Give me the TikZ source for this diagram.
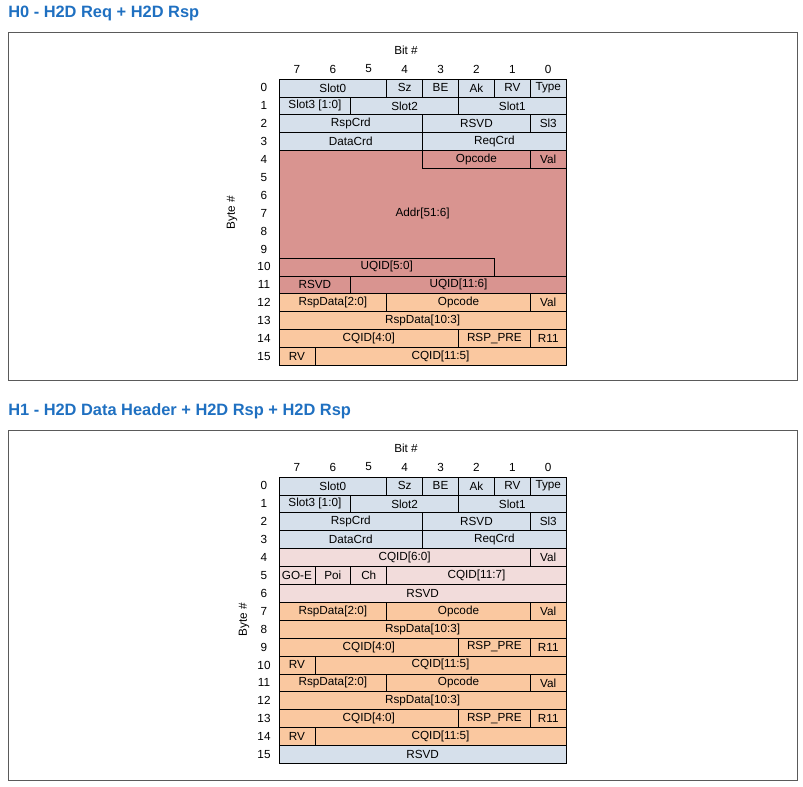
\documentclass[tikz,border=0pt]{standalone}
\usepackage{fontspec}
\setmainfont{Liberation Sans}
\definecolor{cbl}{RGB}{214,224,235}
\definecolor{cre}{RGB}{217,148,144}
\definecolor{cor}{RGB}{250,200,160}
\definecolor{cpk}{RGB}{242,220,219}
\definecolor{ttl}{RGB}{31,112,193}
\definecolor{frm}{RGB}{90,90,90}
\newcommand\fld[6]{%
\filldraw[fill=#5,draw=black,line width=0.6pt] ({279+(#3)*35.9},{#1+(#2)*17.9}) rectangle ++({(#4)*35.9},17.9);
\node[lab] at ({279+((#3)+(#4)/2)*35.9},{#1+((#2)+0.5)*17.9}) {#6};}
\newcommand\hdr[1]{%
\node[lab] at (406,{#1-29}) {Bit \#};
\foreach \b [count=\i from 0] in {7,6,5,4,3,2,1,0} \node[lab] at ({279+(\i+0.5)*35.9},{#1-10}) {\b};
\foreach \r in {0,...,15} \node[lab] at (264,{#1+(\r+0.5)*17.9}) {\r};
\fld{#1}{0}{0}{3}{cbl}{Slot0}\fld{#1}{0}{3}{1}{cbl}{Sz}\fld{#1}{0}{4}{1}{cbl}{BE}
\fld{#1}{0}{5}{1}{cbl}{Ak}\fld{#1}{0}{6}{1}{cbl}{RV}\fld{#1}{0}{7}{1}{cbl}{Type}
\fld{#1}{1}{0}{2}{cbl}{Slot3 [1:0]}\fld{#1}{1}{2}{3}{cbl}{Slot2}\fld{#1}{1}{5}{3}{cbl}{Slot1}
\fld{#1}{2}{0}{4}{cbl}{RspCrd}\fld{#1}{2}{4}{3}{cbl}{RSVD}\fld{#1}{2}{7}{1}{cbl}{Sl3}
\fld{#1}{3}{0}{4}{cbl}{DataCrd}\fld{#1}{3}{4}{4}{cbl}{ReqCrd}}
\newcommand\rsp[2]{%
\fld{#1}{#2}{0}{3}{cor}{RspData[2:0]}\fld{#1}{#2}{3}{4}{cor}{Opcode}\fld{#1}{#2}{7}{1}{cor}{Val}
\fld{#1}{#2+1}{0}{8}{cor}{RspData[10:3]}
\fld{#1}{#2+2}{0}{5}{cor}{CQID[4:0]}\fld{#1}{#2+2}{5}{2}{cor}{RSP\_PRE}\fld{#1}{#2+2}{7}{1}{cor}{R11}
\fld{#1}{#2+3}{0}{1}{cor}{RV}\fld{#1}{#2+3}{1}{7}{cor}{CQID[11:5]}}
\begin{document}
\begin{tikzpicture}[x=0.75pt,y=-0.75pt,
 lab/.style={font=\fontsize{8.8}{10}\selectfont,inner sep=0pt},
 ttlf/.style={font=\fontsize{12.3}{14}\selectfont\bfseries,text=ttl,anchor=west,inner sep=0pt},
 frame/.style={draw=frm,line width=0.6pt}]
\useasboundingbox (0,0) rectangle (803,786);
\node[ttlf] (t0) at (8,13) {H0 - H2D Req + H2D Rsp};
\draw[frame] (8,32) rectangle (797,380);
\hdr{79}
\filldraw[fill=cre,draw=black,line width=0.6pt] (279,{79+4*17.9}) rectangle ({279+8*35.9},{79+11*17.9});
\node[lab] at ({279+4*35.9},{79+7.5*17.9}) {Addr[51:6]};
\fld{79}{4}{4}{3}{cre}{Opcode}\fld{79}{4}{7}{1}{cre}{Val}
\fld{79}{10}{0}{6}{cre}{UQID[5:0]}
\fld{79}{11}{0}{2}{cre}{RSVD}\fld{79}{11}{2}{6}{cre}{UQID[11:6]}
\rsp{79}{12}
\node[lab,rotate=90] at (232,213) {Byte \#};
\node[ttlf] (t1) at (8,411) {H1 - H2D Data Header + H2D Rsp + H2D Rsp};
\draw[frame] (8,430) rectangle (797,780);
\hdr{477}
\fld{477}{4}{0}{7}{cpk}{CQID[6:0]}\fld{477}{4}{7}{1}{cpk}{Val}
\fld{477}{5}{0}{1}{cpk}{GO-E}\fld{477}{5}{1}{1}{cpk}{Poi}\fld{477}{5}{2}{1}{cpk}{Ch}\fld{477}{5}{3}{5}{cpk}{CQID[11:7]}
\fld{477}{6}{0}{8}{cpk}{RSVD}
\rsp{477}{7}
\rsp{477}{11}
\fld{477}{15}{0}{8}{cbl}{RSVD}
\node[lab,rotate=90] at (244,620) {Byte \#};
\end{tikzpicture}
\end{document}
